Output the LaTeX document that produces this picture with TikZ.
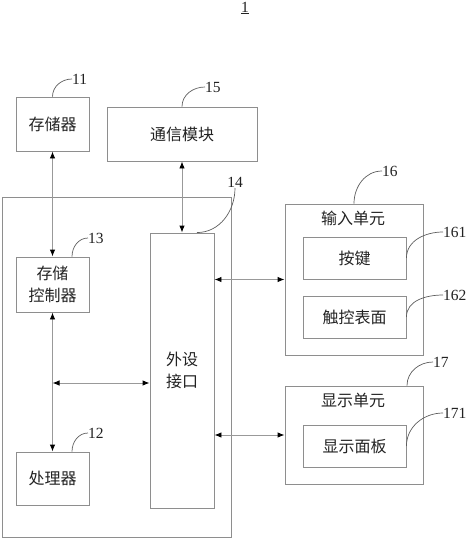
\documentclass[tikz,border=0pt]{standalone}
\usepackage{fontspec}
\setmainfont{Liberation Serif}
\newfontfamily\cjk{Noto Sans CJK SC}
\usetikzlibrary{arrows.meta}
\definecolor{boxcol}{HTML}{8E8E8E}
\definecolor{linecol}{HTML}{999999}
\definecolor{leadcol}{HTML}{5E5E5E}
\definecolor{textcol}{HTML}{222222}

\begin{document}
\begin{tikzpicture}[x=1pt, y=1pt, >={Latex[length=7pt,width=5.5pt,color=black]},
  blk/.style={draw=boxcol, line width=0.9pt, text=textcol, align=center, inner sep=0pt,
    font=\cjk\fontsize{16}{22}\selectfont},
  head/.style={text=textcol, inner sep=0pt, font=\cjk\fontsize{16}{22}\selectfont},
  conn/.style={<->, draw=linecol, line width=0.9pt},
  lead/.style={draw=leadcol, line width=0.7pt},
  num/.style={text=textcol, inner sep=0pt, anchor=west, font=\fontsize{15.5}{15.5}\selectfont}]
\useasboundingbox (0,0) rectangle (474,-539);

% figure number
\node[num, anchor=center] (fig) at (245,-8) {\underline{1}};

% device frame
\draw[draw=boxcol, line width=0.9pt] (2,-197) rectangle (231,-537);

% left column
\node[blk, minimum width=73, minimum height=54] (mem) at (52.5,-124) {存储器};
\node[blk, minimum width=73, minimum height=55] (ctrl) at (52.5,-284.5) {存储\\控制器};
\node[blk, minimum width=73, minimum height=53] (cpu) at (52.5,-478.5) {处理器};

% communication module and peripheral interface
\node[blk, minimum width=150, minimum height=54] (comm) at (182,-134) {通信模块};
\node[blk, minimum width=64, minimum height=275] (ifc) at (182,-370.5) {外设\\接口};

% input unit
\node[blk, minimum width=138, minimum height=151] (input) at (354,-279.5) {};
\node[head] (inputhead) at (353,-218) {输入单元};
\node[blk, minimum width=103, minimum height=42] (key) at (354.5,-258) {按键};
\node[blk, minimum width=103, minimum height=42] (touch) at (354.5,-317) {触控表面};

% display unit
\node[blk, minimum width=138, minimum height=98] (disp) at (354,-435) {};
\node[head] (disphead) at (353,-400) {显示单元};
\node[blk, minimum width=103, minimum height=42] (panel) at (354.5,-446) {显示面板};

% connections
\draw[conn] (mem) -- (ctrl);
\draw[conn] (ctrl) -- (cpu);
\draw[conn] (comm) -- (ifc);
\coordinate (bus) at (52.5,-383);
\draw[conn] (bus) -- (bus -| ifc.west);
\draw[conn] (ifc.east |- input.west) -- (input.west);
\draw[conn] (ifc.east |- disp.west) -- (disp.west);

% reference numerals
\node[num] (n11) at (72,-79) {11};
\node[num] (n13) at (88,-238) {13};
\node[num] (n12) at (88,-433) {12};
\node[num] (n15) at (205,-87) {15};
\node[num, anchor=south] (n14) at (235,-188) {14};
\node[num] (n16) at (382,-171) {16};
\node[num] (n161) at (443,-232) {161};
\node[num] (n162) at (443,-295) {162};
\node[num] (n17) at (433,-362) {17};
\node[num] (n171) at (443,-413) {171};

\draw[lead] (mem.north) to[out=90,in=180] (n11.west);
\draw[lead] ([xshift=19.5]ctrl.north) to[out=90,in=180] (n13.west);
\draw[lead] ([xshift=19.5]cpu.north) to[out=90,in=180] (n12.west);
\draw[lead] (comm.north) to[out=90,in=180] (n15.west);
\draw[lead] ([xshift=15]ifc.north) to[out=0,in=-90] (n14.south);
\draw[lead] (input.north) to[out=90,in=180] (n16.west);
\draw[lead] (key.east) to[out=90,in=180] (n161.west);
\draw[lead] (touch.east) to[out=90,in=180] (n162.west);
\draw[lead] ([xshift=53]disp.north) to[out=90,in=180] (n17.west);
\draw[lead] (panel.east) to[out=90,in=180] (n171.west);
\end{tikzpicture}
\end{document}
